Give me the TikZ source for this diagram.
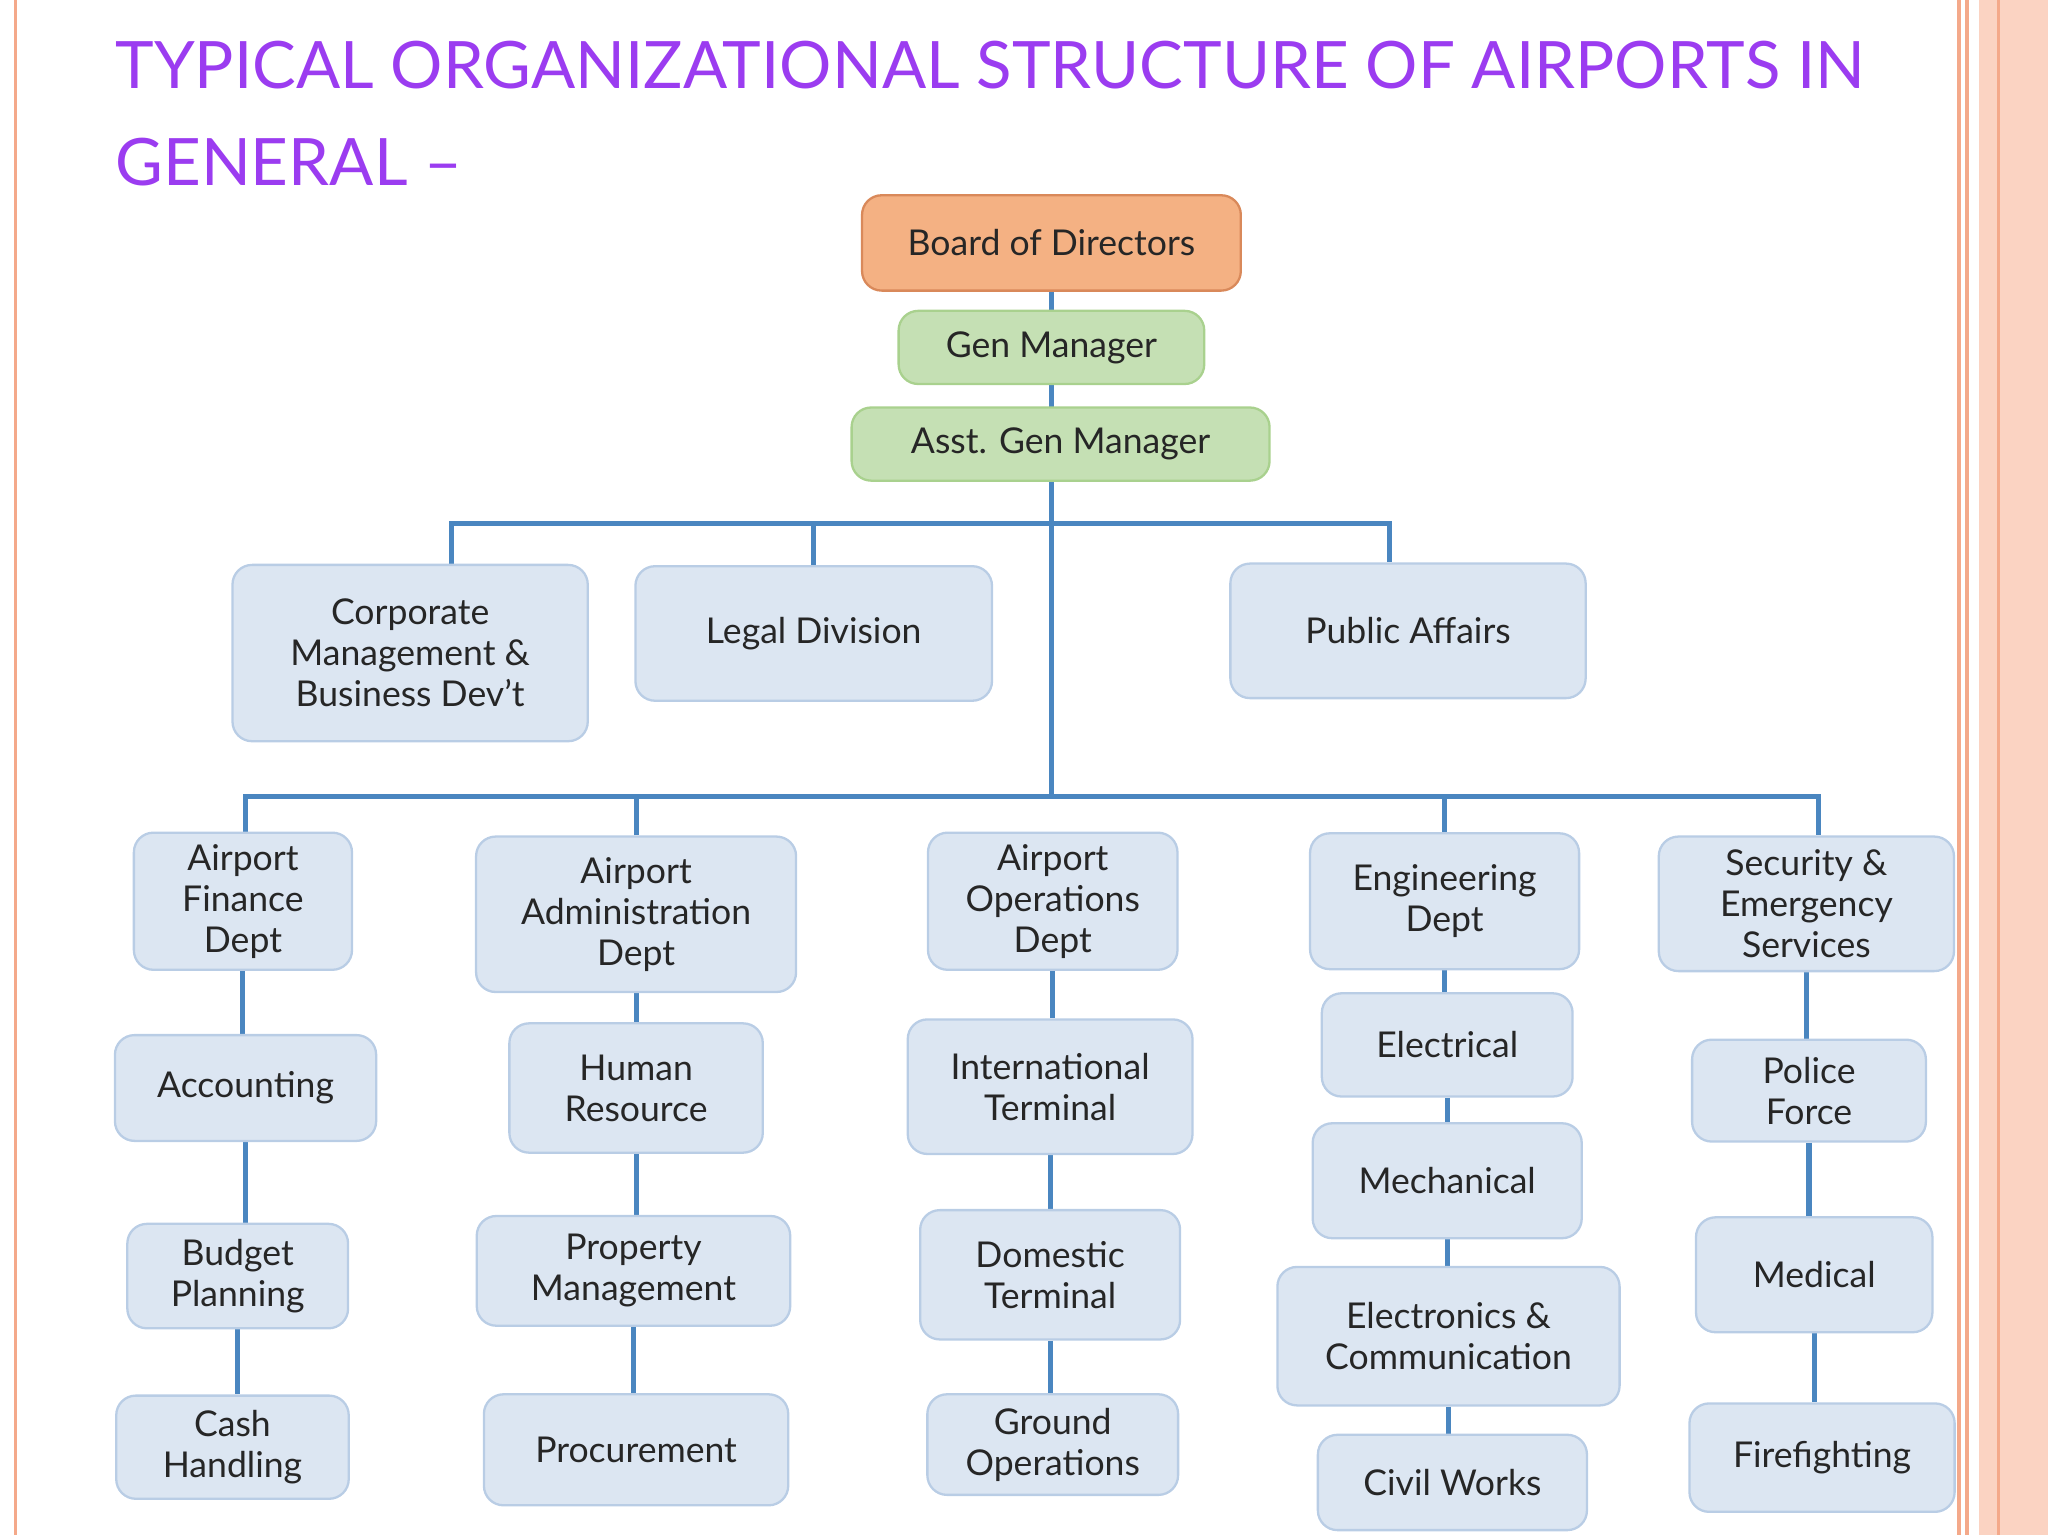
\documentclass[tikz,border=0pt]{standalone}
\usepackage{fontspec}
\setmainfont{Lato}
\usetikzlibrary{backgrounds}
\definecolor{ttl}{HTML}{9B3CF0}
\definecolor{bx}{HTML}{DCE6F2}
\definecolor{bxd}{HTML}{B9CDE5}
\definecolor{ln}{HTML}{4A86C0}
\definecolor{org}{HTML}{F4B183}
\definecolor{orgd}{HTML}{D9895A}
\definecolor{grn}{HTML}{C5E0B4}
\definecolor{grnd}{HTML}{A9D18E}
\definecolor{pch}{HTML}{FBD3C2}
\definecolor{pchd}{HTML}{F4A98A}
\begin{document}
\begin{tikzpicture}[x=0.02cm,y=-0.02cm,
 box/.style={draw=bxd,line width=1pt,fill=bx,rounded corners=0.3cm,align=center,inner sep=0pt,
   font=\fontsize{15.5}{17.8}\selectfont,text=black!85},
 con/.style={draw=ln,line width=2.2pt}]
\useasboundingbox (0,0) rectangle (1568,1175);
% borders
\draw[pchd,line width=1.5pt] (12,0) -- (12,1175);
\fill[pch] (1515,0) rectangle (1568,1175);
\draw[pchd,line width=1.5pt] (1500,0) -- (1500,1175);
\draw[pchd,line width=1.5pt] (1506,0) -- (1506,1175);
\draw[pchd,line width=1.5pt] (1530,0) -- (1530,1175);
% title
\node[anchor=base west,text=ttl,font=\fontsize{28.5}{30}\selectfont,inner sep=0] (t1) at (88,68) {TYPICAL ORGANIZATIONAL STRUCTURE OF AIRPORTS IN};
\node[anchor=base west,text=ttl,font=\fontsize{28.5}{30}\selectfont,inner sep=0] (t2) at (88,142) {GENERAL –};
% nodes
\node[box,fill=org,draw=orgd,minimum width=290*0.02cm,minimum height=73*0.02cm] (bod) at (805,186) {Board of Directors};
\node[box,fill=grn,draw=grnd,minimum width=234*0.02cm,minimum height=56*0.02cm] (gm) at (805,266) {Gen Manager};
\node[box,fill=grn,draw=grnd,minimum width=320*0.02cm,minimum height=56*0.02cm] (agm) at (812,340) {Asst. Gen Manager};
\newcommand\bb[6]{\node[box,minimum width=#4*0.02cm,minimum height=#5*0.02cm] (#1) at (#2,#3) {#6};}
\bb{corp}{314}{500}{272}{135}{Corporate\\Management \&\\Business Dev’t}
\bb{legal}{623}{485}{273}{103}{Legal Division}
\bb{pub}{1078}{483}{272}{103}{Public Affairs}
\bb{fin}{186}{690}{167}{105}{Airport\\Finance\\Dept}
\bb{adm}{487}{700}{245}{119}{Airport\\Administration\\Dept}
\bb{ops}{806}{690}{191}{105}{Airport\\Operations\\Dept}
\bb{eng}{1106}{690}{206}{104}{Engineering\\Dept}
\bb{sec}{1383}{692}{226}{103}{Security \&\\Emergency\\Services}
\bb{acc}{188}{833}{200}{81}{Accounting}
\bb{bud}{182}{977}{169}{80}{Budget\\Planning}
\bb{cash}{178}{1108}{178}{79}{Cash\\Handling}
\bb{hr}{487}{833}{194}{99}{Human\\Resource}
\bb{prop}{485}{973}{240}{84}{Property\\Management}
\bb{proc}{487}{1110}{233}{85}{Procurement}
\bb{intl}{804}{832}{218}{103}{International\\Terminal}
\bb{dom}{804}{976}{199}{99}{Domestic\\Terminal}
\bb{gnd}{806}{1106}{192}{77}{Ground\\Operations}
\bb{elec}{1108}{800}{192}{79}{Electrical}
\bb{mech}{1108}{904}{206}{88}{Mechanical}
\bb{etc}{1109}{1023}{262}{106}{Electronics \&\\Communication}
\bb{civ}{1112}{1135}{206}{73}{Civil Works}
\bb{pol}{1385}{835}{179}{78}{Police\\Force}
\bb{med}{1389}{976}{181}{88}{Medical}
\bb{fire}{1395}{1116}{203}{83}{Firefighting}
\coordinate (tb) at (805,401);
\coordinate (lb) at (805,610);
\begin{scope}[on background layer]
\draw[con] (805,223) -- (805,312);
\draw[con] (805,368) -- (lb);
\draw[con] (corp.north -| 346,0) |- (tb) -| (pub.north -| 1064,0);
\draw[con] (legal.north) -- (legal.north |- tb);
\draw[con] (fin.north -| 188,0) |- (lb) -| (sec.north -| 1392,0);
\draw[con] (adm.north) -- (adm.north |- lb);
\draw[con] (eng.north) -- (eng.north |- lb);
\foreach \a/\b in {fin/acc,acc/bud,bud/cash,adm/hr,hr/prop,prop/proc,ops/intl,intl/dom,dom/gnd,eng/elec,elec/mech,mech/etc,etc/civ,sec/pol,pol/med,med/fire}
  \draw[con] (\a.south) -- (\a.south |- \b.north);
\end{scope}
\end{tikzpicture}
\end{document}
